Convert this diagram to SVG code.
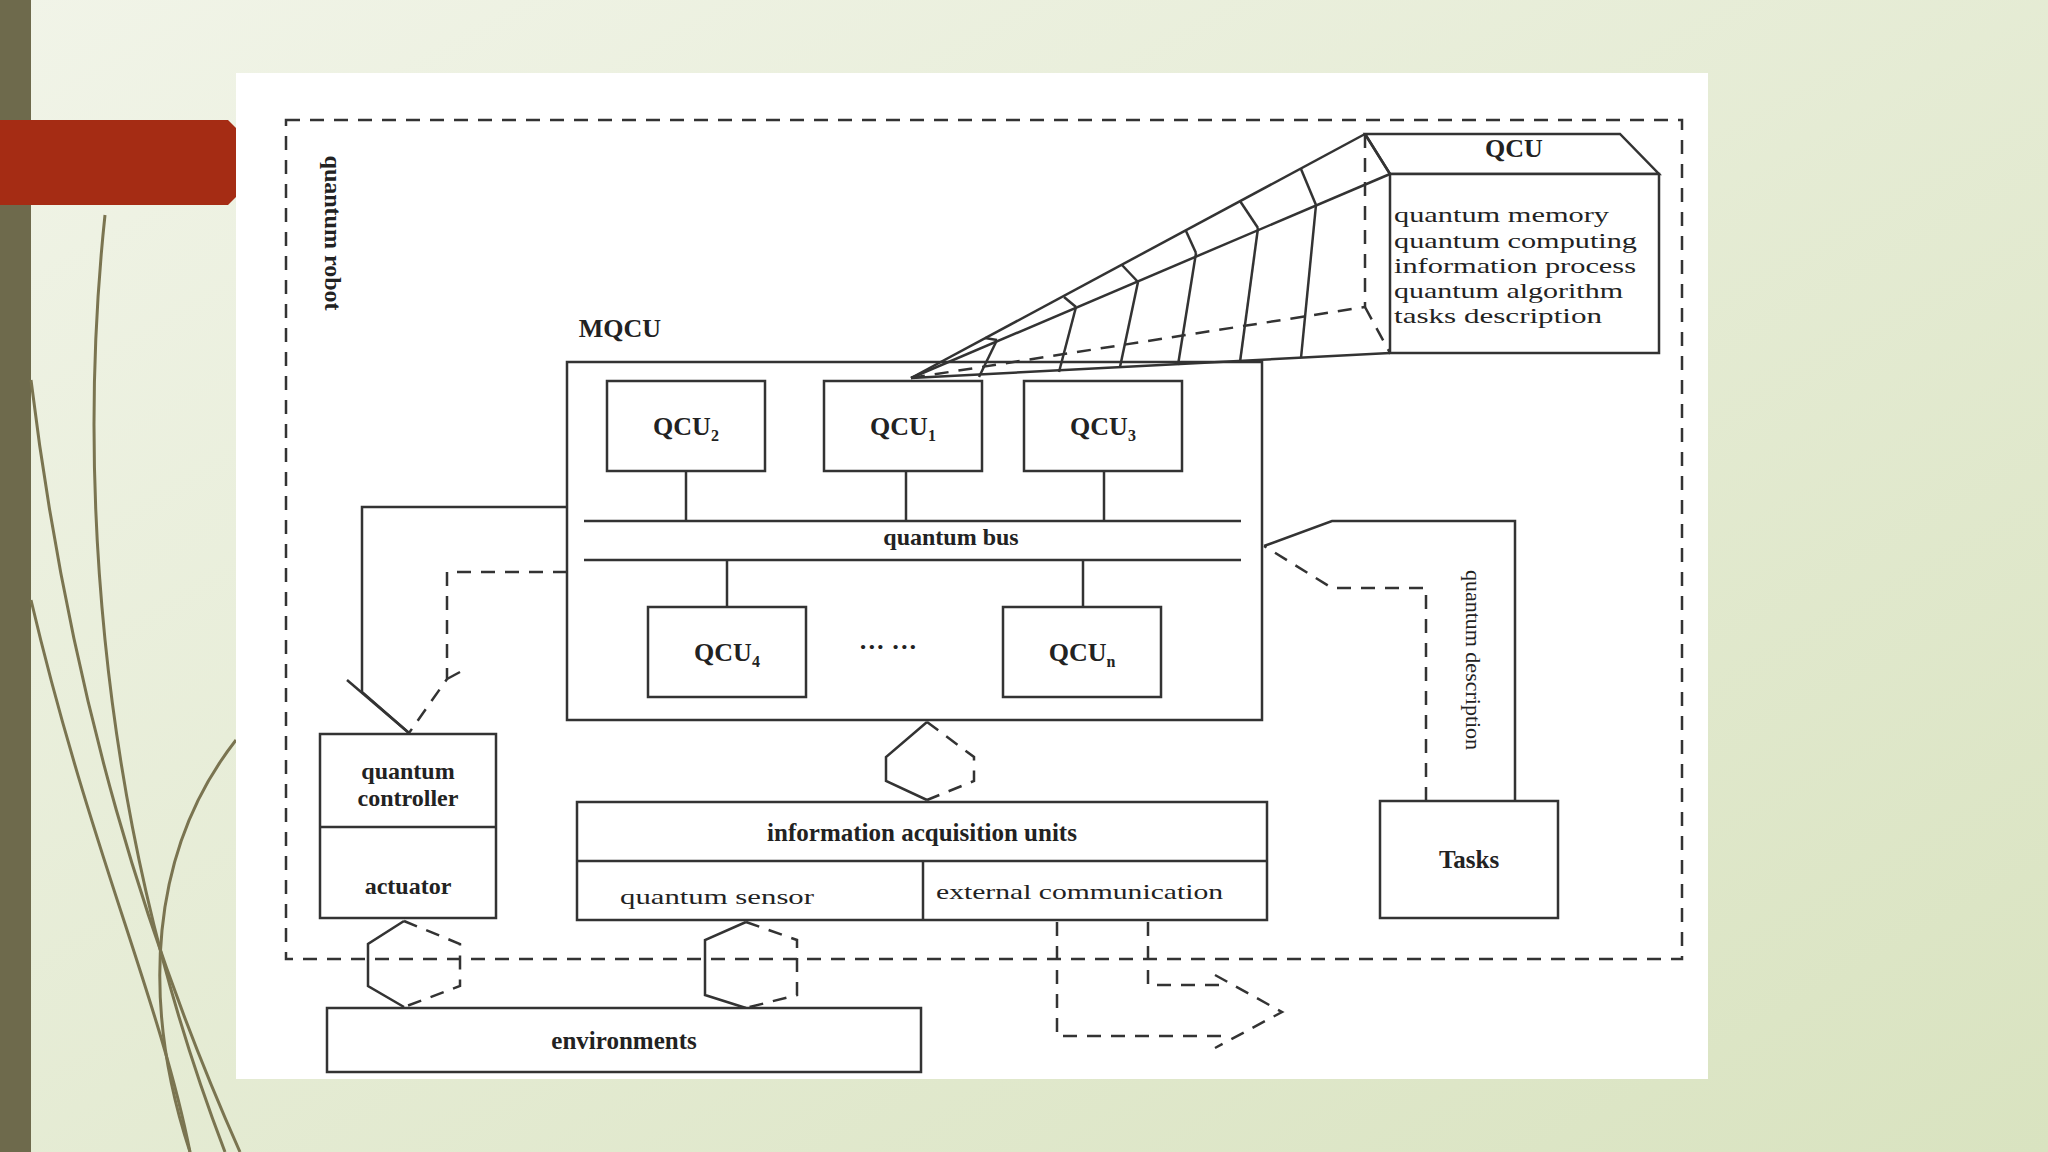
<svg xmlns="http://www.w3.org/2000/svg" width="2048" height="1152" viewBox="0 0 2048 1152">
<defs>
<linearGradient id="bg" x1="0" y1="0" x2="1" y2="1"><stop offset="0" stop-color="#f1f4e8"/><stop offset="1" stop-color="#d9e3c0"/></linearGradient>
<style>
.s{fill:none;stroke:#333;stroke-width:2.5}
.d{fill:none;stroke:#333;stroke-width:2.5;stroke-dasharray:14 10}
.b{fill:#fff;stroke:#333;stroke-width:2.5}
.t{font-family:"Liberation Serif",serif;font-weight:bold;fill:#222;text-anchor:middle}
.n{font-family:"Liberation Serif",serif;fill:#222}
</style>
</defs>
<rect width="2048" height="1152" fill="url(#bg)"/>
<rect x="0" y="0" width="31" height="1152" fill="#6e6a4c"/>
<g fill="none" stroke="#7a7450" stroke-width="3">
<path d="M105,215 C80,450 90,800 225,1152"/>
<path d="M31,380 C70,700 150,950 240,1152"/>
<path d="M31,600 C90,850 160,1000 190,1152"/>
<path d="M236,740 C150,850 140,1000 190,1152"/>
</g>
<path d="M0,120 H228 L236,128 V197 L228,205 H0 Z" fill="#a52c14"/>
<rect x="236" y="73" width="1472" height="1006" fill="#fff"/>
<rect x="286" y="120" width="1396" height="839" class="d"/>
<text class="t" font-size="24" transform="translate(325,233) rotate(90)">quantum robot</text>
<g id="mqcu">
<text class="t" x="620" y="337" font-size="26">MQCU</text>
<rect x="567" y="362" width="695" height="358" class="b"/>
<line x1="584" y1="521" x2="1241" y2="521" class="s"/>
<line x1="584" y1="560" x2="1241" y2="560" class="s"/>
<text class="t" x="951" y="545" font-size="24">quantum bus</text>
<text class="t" x="888" y="655" font-size="26">··· ···</text>
</g>
<g id="qcu2"><rect x="607" y="381" width="158" height="90" class="b"/><text class="t" x="686" y="435" font-size="26">QCU<tspan font-size="16" dy="6">2</tspan></text></g>
<g id="qcu1"><rect x="824" y="381" width="158" height="90" class="b"/><text class="t" x="903" y="435" font-size="26">QCU<tspan font-size="16" dy="6">1</tspan></text></g>
<g id="qcu3"><rect x="1024" y="381" width="158" height="90" class="b"/><text class="t" x="1103" y="435" font-size="26">QCU<tspan font-size="16" dy="6">3</tspan></text></g>
<g id="qcu4"><rect x="648" y="607" width="158" height="90" class="b"/><text class="t" x="727" y="661" font-size="26">QCU<tspan font-size="16" dy="6">4</tspan></text></g>
<g id="qcun"><rect x="1003" y="607" width="158" height="90" class="b"/><text class="t" x="1082" y="661" font-size="26">QCU<tspan font-size="16" dy="6">n</tspan></text></g>
<g id="qcu-detail">
<path d="M1365,134 H1620 L1659,174 H1390 Z" class="b"/>
<rect x="1390" y="174" width="269" height="179" class="b"/>
<text class="t" x="1514" y="157" font-size="26">QCU</text>
<text class="n" x="1394" y="222" font-size="22" textLength="215" lengthAdjust="spacingAndGlyphs">quantum memory</text>
<text class="n" x="1394" y="248" font-size="22" textLength="243" lengthAdjust="spacingAndGlyphs">quantum computing</text>
<text class="n" x="1394" y="273" font-size="22" textLength="242" lengthAdjust="spacingAndGlyphs">information process</text>
<text class="n" x="1394" y="298" font-size="22" textLength="229" lengthAdjust="spacingAndGlyphs">quantum algorithm</text>
<text class="n" x="1394" y="323" font-size="22" textLength="208" lengthAdjust="spacingAndGlyphs">tasks description</text>
</g>
<g id="connectors">
<line x1="686" y1="471" x2="686" y2="521" class="s"/>
<line x1="906" y1="471" x2="906" y2="521" class="s"/>
<line x1="1104" y1="471" x2="1104" y2="521" class="s"/>
<line x1="727" y1="560" x2="727" y2="607" class="s"/>
<line x1="1083" y1="560" x2="1083" y2="607" class="s"/>
<g class="s" stroke-width="2">
<line x1="911" y1="378" x2="1365" y2="134"/>
<line x1="911" y1="378" x2="1390" y2="174"/>
<line x1="911" y1="378" x2="1390" y2="353"/>
<line x1="997" y1="340" x2="979" y2="377"/>
<line x1="1076" y1="307" x2="1059" y2="372"/>
<line x1="1138" y1="282" x2="1120" y2="367"/>
<line x1="1196" y1="253" x2="1178" y2="365"/>
<line x1="1258" y1="228" x2="1240" y2="362"/>
<line x1="1316" y1="205" x2="1301" y2="358"/>
<line x1="985" y1="338" x2="997" y2="340"/>
<line x1="1064" y1="297" x2="1076" y2="307"/>
<line x1="1122" y1="265" x2="1138" y2="282"/>
<line x1="1186" y1="231" x2="1196" y2="253"/>
<line x1="1240" y1="201" x2="1258" y2="228"/>
<line x1="1301" y1="169" x2="1316" y2="205"/>
<line x1="1365" y1="134" x2="1390" y2="174"/>
</g>
<line x1="911" y1="378" x2="1365" y2="307" class="d" stroke-width="2"/>
<line x1="1365" y1="134" x2="1365" y2="307" class="d" stroke-width="2"/>
<line x1="1365" y1="307" x2="1390" y2="353" class="d" stroke-width="2"/>
<polyline points="567,507 362,507 362,692 409,733" class="s"/>
<line x1="347" y1="680" x2="409" y2="733" class="s"/>
<polyline points="567,572 447,572 447,679 409,733" class="d"/>
<line x1="447" y1="679" x2="460" y2="672" class="s"/>
<polyline points="927,722 886,757 886,781 927,800" class="s"/>
<polyline points="927,722 974,757 974,781 927,800" class="d"/>
<polyline points="1515,801 1515,521 1332,521 1264,546" class="s"/>
<polyline points="1426,801 1426,588 1332,588 1264,546" class="d"/>
<polyline points="404,921 368,944 368,986 404,1007" class="s"/>
<polyline points="404,921 460,944 460,986 404,1007" class="d"/>
<polyline points="746,922 705,940 705,995 746,1008" class="s"/>
<polyline points="746,922 797,940 797,995 746,1008" class="d"/>
<polyline points="1057,922 1057,1036 1221,1036" class="d"/>
<polyline points="1148,922 1148,985 1221,985" class="d"/>
<polyline points="1215,975 1282,1012 1215,1048" class="d"/>
</g>
<g id="controller">
<rect x="320" y="734" width="176" height="184" class="b"/>
<line x1="320" y1="827" x2="496" y2="827" class="s"/>
<text class="t" x="408" y="779" font-size="24">quantum</text>
<text class="t" x="408" y="806" font-size="24">controller</text>
<text class="t" x="408" y="894" font-size="24">actuator</text>
</g>
<g id="info">
<rect x="577" y="802" width="690" height="118" class="b"/>
<line x1="577" y1="861" x2="1267" y2="861" class="s"/>
<line x1="923" y1="861" x2="923" y2="920" class="s"/>
<text class="t" x="922" y="841" font-size="25">information acquisition units</text>
<text class="n" x="620" y="904" font-size="21" textLength="194" lengthAdjust="spacingAndGlyphs">quantum sensor</text>
<text class="n" x="936" y="899" font-size="21" textLength="287" lengthAdjust="spacingAndGlyphs">external communication</text>
</g>
<g id="tasks">
<rect x="1380" y="801" width="178" height="117" class="b"/>
<text class="t" x="1469" y="868" font-size="25">Tasks</text>
<text class="n" font-size="22" text-anchor="middle" transform="translate(1466,660) rotate(90)">quantum description</text>
</g>
<g id="env">
<rect x="327" y="1008" width="594" height="64" class="b"/>
<text class="t" x="624" y="1049" font-size="25">environments</text>
</g>
</svg>
